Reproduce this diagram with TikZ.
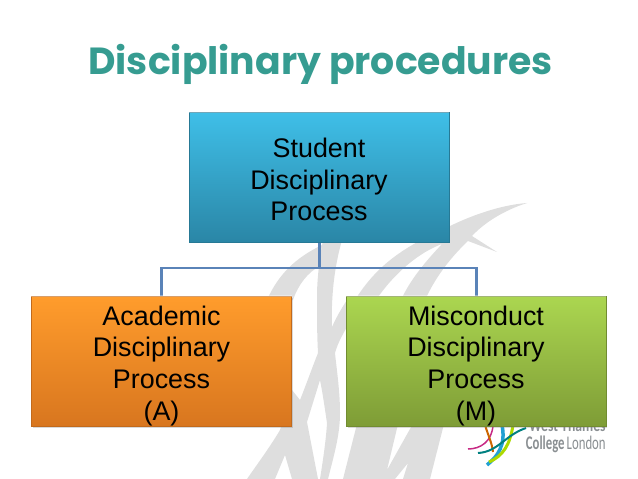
\documentclass[tikz,border=0pt]{standalone}
\usepackage{fontspec}
\usepackage{xcolor}
\usetikzlibrary{shadows}
\setmainfont{Liberation Sans}
\newfontfamily\titlefont{Poppins}
\newfontfamily\logofont{Carlito}
\definecolor{titleteal}{HTML}{369C91}
\definecolor{swooshgray}{HTML}{DEDEDE}
\definecolor{busblue}{HTML}{5A83B8}
\definecolor{studenttop}{HTML}{3FBFE8}
\definecolor{studentbot}{HTML}{2A86A6}
\definecolor{academictop}{HTML}{FF9C2C}
\definecolor{academicbot}{HTML}{D8761F}
\definecolor{misconducttop}{HTML}{ABD650}
\definecolor{misconductbot}{HTML}{7E9C36}
\definecolor{logogray}{HTML}{8A8F92}
\newcommand{\firstline}[1]{\rule{0pt}{#1}}
\tikzset{
    processbox/.style={minimum width=5.2cm, minimum height=2.6cm, inner sep=0pt, align=center,
        line width=0.2pt, font=\fontsize{15.3}{18}\selectfont,
        drop shadow={shadow xshift=0.03cm, shadow yshift=-0.03cm, opacity=0.3}},
    bus/.style={draw=busblue, line width=0.06cm},
    highlight/.style={white, opacity=0.35, line width=0.04cm}
}
\begin{document}
\begin{tikzpicture}[x=0.02cm,y=-0.02cm]
        \useasboundingbox (0,0) rectangle (638,479);%

        % Drawing centre swoosh
        \fill [swooshgray] (247,479) -- (275,479) -- (285,455) -- (292,479) -- (318,479) -- (307,422) -- (320,380) .. controls (323,395) and (325,410) .. (327,423) .. controls (326,440) and (323,460) .. (320,479) -- (328,479) .. controls (334,455) and (340,435) .. (340,413) .. controls (340,392) and (337,372) .. (335,353) .. controls (338,342) and (344,332) .. (350,322) -- (347,300) .. controls (341,309) and (336,318) .. (332,327) .. controls (331,298) and (334,268) .. (342,240) -- (323,240) .. controls (319,262) and (317,280) .. (317,297) .. controls (317,318) and (317,335) .. (318,353) .. controls (312,368) and (306,385) .. (300,400) -- (292,390) -- (280,430) .. controls (270,447) and (258,463) .. (247,479) -- cycle;%

        % Drawing left arc of swoosh
        \fill [swooshgray] (267,300) .. controls (278,275) and (295,258) .. (322,245) -- (320,266) .. controls (308,272) and (298,285) .. (293,300) -- cycle;%

        % Drawing upper right swoosh
        \fill [swooshgray] (355,300) .. controls (375,268) and (400,248) .. (448,227) .. controls (470,216) and (500,205) .. (527,203) .. controls (505,210) and (485,222) .. (472,236) -- (497,252) -- (468,241) .. controls (450,258) and (435,278) .. (425,300) -- (401,300) .. controls (410,280) and (425,262) .. (442,244) .. controls (420,252) and (395,272) .. (376,300) -- cycle;%

        % Drawing lower right swoosh
        \fill [swooshgray] (358,420) -- (399,420) -- (387,470) -- (415,420) -- (445,420) -- (430,479) -- (403,479) -- (408,463) -- (395,479) -- (343,479) -- cycle;%

        % Drawing logo strands
        \draw [magenta!80!black, line width=0.03cm] (468,449) .. controls (480,449) and (492,442) .. (493,425);%
        \draw [orange!80!black, line width=0.04cm] (485,425) .. controls (488,435) and (492,443) .. (493,452);%
        \draw [cyan!70!teal, line width=0.07cm] (502,425) .. controls (506,445) and (498,456) .. (487,465);%
        \draw [lime!70!olive, line width=0.06cm] (513,425) .. controls (510,445) and (503,456) .. (489,462);%
        \draw [teal, line width=0.04cm] (478,453) .. controls (498,452) and (505,435) .. (526,428);%

        % Marking logo text
        \node (logotop) [anchor=base east, inner sep=0pt, text=logogray, font=\logofont\bfseries\fontsize{10}{11}\selectfont] at (606,431) {\scalebox{0.78}[1]{West Thames}};%
        \node (logobottom) [anchor=base east, inner sep=0pt, text=logogray, font=\logofont\fontsize{11}{12}\selectfont] at (606,449) {\scalebox{0.66}[1]{\textbf{College}\,London}};%

        % Marking title
        \node (title) [anchor=base west, inner sep=0pt, text=titleteal, font=\titlefont\bfseries\fontsize{21.5}{26}\selectfont] at (88,75) {Disciplinary procedures};%

        % Drawing connectors first, boxes lie over them
        \coordinate (studentfoot) at (319,242);%
        \coordinate (busjoin) at (319,268);%
        \coordinate (academichead) at (161.5,297);%
        \coordinate (misconducthead) at (476,297);%
        \draw [bus] (studentfoot) -- (busjoin);%
        \draw [bus] (academichead) |- (busjoin) -| (misconducthead);%

        % Marking process boxes
        \node (student) [processbox, draw=studentbot!90!black, top color=studenttop, bottom color=studentbot] at (319,177) {\firstline{14pt}Student\\Disciplinary\\Process};%
        \node (academic) [processbox, draw=academicbot!90!black, top color=academictop, bottom color=academicbot] at (161.5,361.5) {\firstline{16pt}Academic\\Disciplinary\\Process\\(A)};%
        \node (misconduct) [processbox, draw=misconductbot!90!black, top color=misconducttop, bottom color=misconductbot] at (476,361.5) {\firstline{16pt}Misconduct\\Disciplinary\\Process\\(M)};%

        % Drawing box highlights
        \draw [highlight] (student.north west) -- (student.north east);%
        \draw [highlight] (academic.north west) -- (academic.north east);%
        \draw [highlight] (misconduct.north west) -- (misconduct.north east);%
    \end{tikzpicture}
\end{document}
